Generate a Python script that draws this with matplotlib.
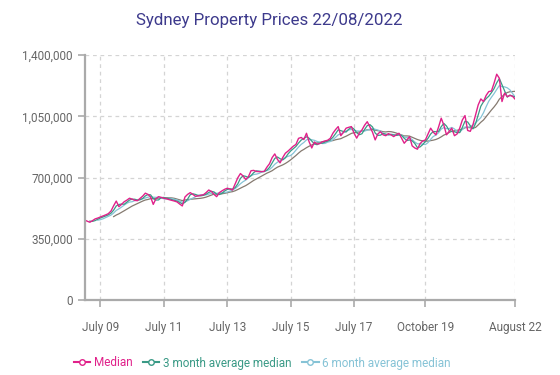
import matplotlib.pyplot as plt
import pandas as pd
from matplotlib.lines import Line2D

# monthly median, Jan 2009 .. Aug 2022 (thousands of dollars)
median_k = [
    459, 452, 446, 455, 465, 470, 476, 482, 488, 495, 510, 540,
    567, 535, 548, 563, 572, 583, 578, 571, 569, 582, 595, 612,
    605, 590, 548, 580, 592, 588, 583, 580, 575, 571, 567, 562,
    550, 539, 590, 605, 615, 605, 594, 596, 600, 603, 615, 630,
    622, 605, 592, 615, 625, 634, 640, 636, 630, 665, 700, 724,
    710, 690, 705, 740, 742, 736, 735, 735, 736, 760, 780, 815,
    836, 805, 785, 815, 840, 852, 866, 880, 890, 925, 930, 918,
    954, 905, 870, 904, 892, 895, 905, 910, 914, 925, 954, 975,
    992, 940, 960, 983, 988, 992, 955, 926, 955, 973, 1000, 1020,
    990, 960, 916, 950, 963, 945, 940, 952, 945, 935, 945, 954,
    925, 897, 915, 935, 882, 870, 863, 895, 910, 916, 950, 983,
    960, 945, 990, 1040, 1000, 945, 965, 983, 940, 950, 983, 1030,
    1055, 970, 965, 1002, 1060, 1116, 1150, 1135, 1170, 1192, 1195, 1240,
    1291, 1268, 1135, 1183, 1163, 1170, 1165, 1148,
]
tick_idx = [6, 30, 54, 78, 102, 129, 163]
tick_labels = ["July 09", "July 11", "July 13", "July 15", "July 17", "October 19", "August 22"]
y_ticks = [0, 350000, 700000, 1050000, 1400000]

median = pd.Series(median_k) * 1000
avg3 = median.rolling(3).mean()
avg6 = median.rolling(6).mean()
avg12 = median.rolling(12).mean()

c_med = "#e0218a"
c_3 = "#3a9a86"
c_6 = "#86c3d6"
c_12 = "#857a70"

plt.rcParams["font.family"] = ["Roboto", "DejaVu Sans"]
fig = plt.figure(figsize=(5.6, 3.75), dpi=100)
ax = fig.add_axes([0.151, 0.199, 0.769, 0.654])

ax.plot(median.index, avg12, color=c_12, lw=0.9)
ax.plot(median.index, avg6, color=c_6, lw=0.9)
ax.plot(median.index, avg3, color=c_3, lw=0.9)
ax.plot(median.index, median, color=c_med, lw=1.0)

ax.set_xlim(0, len(median_k) - 1)
ax.set_ylim(0, 1400000)
ax.set_xticks(tick_idx)
ax.set_xticklabels(tick_labels)
ax.set_yticks(y_ticks)
ax.set_yticklabels([f"{v:,}" for v in y_ticks])
ax.grid(True, color="#d4d4d4", linestyle=(0, (3, 3)), lw=0.9)
ax.set_axisbelow(True)

for s in ["top", "right"]:
    ax.spines[s].set_visible(False)
for s in ["left", "bottom"]:
    ax.spines[s].set_color("#aaaaaa")
    ax.spines[s].set_linewidth(1.6)
ax.tick_params(colors="#aaaaaa", labelcolor="#666666", labelsize=8.5, length=5, width=1.2)
ax.tick_params(axis="x", pad=10)

fig.suptitle("Sydney Property Prices 22/08/2022", x=0.48, y=0.965, fontsize=12.2, color="#3d3a8c")

handles = [
    Line2D([], [], color=c_med, marker="o", mfc="white", ms=4, lw=1.5),
    Line2D([], [], color=c_3, marker="o", mfc="white", ms=4, lw=1.5),
    Line2D([], [], color=c_6, marker="o", mfc="white", ms=4, lw=1.5),
]
fig.legend(handles, ["Median", "3 month average median", "6 month average median"],
           loc="center", bbox_to_anchor=(0.468, 0.032), ncol=3, frameon=False,
           fontsize=8.5, labelcolor=[c_med, c_3, c_6], handlelength=1.4,
           handletextpad=0.3, columnspacing=0.9)

fig.savefig("out.png", dpi=100)
